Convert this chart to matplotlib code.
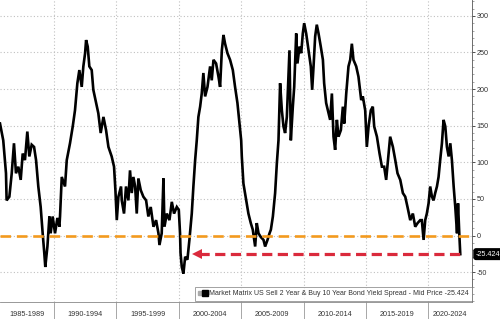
import matplotlib
matplotlib.use("Agg")
import matplotlib.pyplot as plt
import matplotlib.transforms as mtransforms
from matplotlib.lines import Line2D
import numpy as np

# ---- data (decimal year, spread in bp) ----
years = [
    1985.67, 1985.93, 1986.15, 1986.20, 1986.42, 1986.61, 1986.79, 1986.95, 1987.14, 1987.33,
    1987.49, 1987.67, 1987.86, 1988.02, 1988.21, 1988.40, 1988.56, 1988.74, 1988.93, 1989.09,
    1989.22, 1989.30, 1989.47, 1989.63, 1989.73, 1989.89, 1990.08, 1990.27, 1990.43,
    1990.48, 1990.62, 1990.88, 1991.02, 1991.28, 1991.50, 1991.68, 1991.87, 1992.03, 1992.22,
    1992.35, 1992.49, 1992.57, 1992.70, 1992.83, 1993.02, 1993.15, 1993.37, 1993.55, 1993.74,
    1993.96, 1994.17, 1994.36, 1994.62, 1994.81, 1994.92, 1995.03, 1995.16, 1995.37,
    1995.43, 1995.61, 1995.77, 1995.96, 1996.09, 1996.23, 1996.36, 1996.50, 1996.63, 1996.76,
    1996.95, 1997.16, 1997.38, 1997.56, 1997.75, 1997.97, 1998.18, 1998.37, 1998.45, 1998.63,
    1998.77, 1998.85, 1999.04, 1999.25, 1999.44, 1999.62, 1999.84, 2000.00, 2000.10,
    2000.14, 2000.24, 2000.37, 2000.51, 2000.69, 2000.85, 2001.04, 2001.17, 2001.31, 2001.44,
    2001.57, 2001.71, 2001.84, 2001.97, 2002.11, 2002.30, 2002.51, 2002.64, 2002.78, 2002.99,
    2003.18, 2003.31, 2003.45, 2003.58, 2003.71, 2003.90, 2004.11, 2004.33, 2004.51, 2004.70,
    2004.86, 2005.00,
    2005.05, 2005.18, 2005.40, 2005.58, 2005.77, 2005.93, 2006.12, 2006.25, 2006.39, 2006.57,
    2006.79, 2006.92, 2007.11, 2007.27, 2007.38, 2007.54, 2007.72, 2007.86, 2007.99, 2008.12,
    2008.26, 2008.39, 2008.52, 2008.66, 2008.87, 2008.98, 2009.14, 2009.25, 2009.41, 2009.51,
    2009.67, 2009.81,
    2009.94, 2010.05, 2010.21, 2010.40, 2010.58, 2010.69, 2010.80, 2010.93, 2011.06, 2011.20,
    2011.38, 2011.55, 2011.65, 2011.81, 2012.00, 2012.13, 2012.27, 2012.40, 2012.53, 2012.67,
    2012.80, 2012.99, 2013.15, 2013.26, 2013.42, 2013.60, 2013.74, 2013.87, 2014.00, 2014.22,
    2014.40, 2014.62,
    2014.75, 2014.94, 2015.07, 2015.21, 2015.39, 2015.55, 2015.66, 2015.88, 2016.09, 2016.28,
    2016.46, 2016.62, 2016.81, 2016.94, 2017.16, 2017.35, 2017.53, 2017.75, 2017.96, 2018.15,
    2018.33, 2018.55, 2018.76, 2018.95, 2019.14, 2019.35,
    2019.48, 2019.62, 2019.75, 2019.88, 2020.02, 2020.15, 2020.29, 2020.42, 2020.55, 2020.69,
    2020.82, 2020.95, 2021.09, 2021.22, 2021.36, 2021.49, 2021.63, 2021.76, 2021.89, 2022.03,
    2022.16, 2022.30, 2022.38, 2022.48, 2022.56,
]
spread = [
    153, 130, 85, 48, 53, 85, 126, 85, 94, 76,
    112, 103, 142, 108, 124, 121, 103, 67, 39, 3,
    -24, -43, -15, 26, 3, 26, 3, 24, 12,
    26, 80, 67, 103, 126, 149, 171, 208, 226, 203,
    231, 249, 267, 258, 231, 226, 199, 181, 167, 140,
    162, 144, 121, 108, 94, 62, 21, 53, 67,
    48, 30, 67, 48, 89, 58, 80, 67, 30, 78,
    62, 53, 48, 26, 39, 12, 21, 3, -13, 3,
    78, 12, 30, 21, 46, 30, 39, 35, 3,
    -24, -43, -52, -29, -33, -6, 30, 67, 103, 130,
    162, 176, 194, 222, 190, 203, 231, 212, 240, 235,
    217, 203, 253, 274, 262, 249, 240, 226, 203, 181,
    153, 130,
    108, 71, 48, 30, 17, 8, -15, 17, 3, -2,
    -6, -15, -6, 3, 8, 26, 58, 99, 130, 208,
    171, 149, 140, 162, 253, 130, 176, 203, 276, 235,
    258, 249,
    276, 290, 276, 253, 231, 199, 231, 272, 288, 276,
    258, 240, 208, 181, 167, 158, 194, 135, 117, 158,
    135, 144, 176, 153, 194, 231, 240, 262, 240, 231,
    217, 185,
    190, 171, 121, 149, 171, 176, 149, 135, 112, 94,
    94, 76, 112, 135, 121, 103, 85, 76, 58, 53,
    39, 21, 30, 12, 17, 21,
    21, -6, 21, 30, 44, 67, 53, 48, 58, 67,
    80, 103, 126, 158, 149, 121, 108, 126, 103, 67,
    39, 3, 44, 3, -25.424,
]
last_value = -25.424
arrow_start = 2001.17
band_edges = [1985, 1990, 1995, 2000, 2005, 2010, 2015, 2020, 2025]
band_labels = ["1985-1989", "1990-1994", "1995-1999", "2000-2004",
               "2005-2009", "2010-2014", "2015-2019", "2020-2024"]
y_ticks = [-50, 0, 50, 100, 150, 200, 250, 300]
legend_label = "Market Matrix US Sell 2 Year & Buy 10 Year Bond Yield Spread - Mid Price -25.424"

FONT = "Liberation Sans"
plt.rcParams["font.family"] = [FONT, "DejaVu Sans"]

fig = plt.figure(figsize=(5.0, 3.19), dpi=100)
ax = fig.add_axes([0.0, 0.0542, 0.944, 0.9458])
xmin, xmax = 1985.67, 2023.5
ymin, ymax = -90.4, 321.7
ax.set_xlim(xmin, xmax)
ax.set_ylim(ymin, ymax)

# grid
for yv in y_ticks:
    ax.axhline(yv, color="#c0c0c0", lw=0.8, ls=(0, (1, 2)), zorder=0)
for xv in band_edges[1:-1]:
    ax.axvline(xv, color="#c0c0c0", lw=0.8, ls=(0, (1, 2)), zorder=0)

# series
ax.plot(years, spread, color="black", lw=1.9, zorder=3, solid_joinstyle="miter")

# zero line
ax.axhline(0, color="#F39A1E", lw=1.9, ls=(0, (4, 2.2)), zorder=4)

# red arrow
red = "#DA2A3C"
ax.plot([arrow_start + 0.45, years[-1]], [last_value, last_value], color=red,
        lw=2.3, ls=(0, (3.2, 1.7)), zorder=4, solid_capstyle="butt")
ax.plot([arrow_start + 0.3], [last_value], marker="<", color=red, ms=6.5,
        markeredgewidth=0, zorder=5)

# spines
for s in ["left", "top"]:
    ax.spines[s].set_visible(False)
ax.spines["right"].set_color("#555555")
ax.spines["right"].set_linewidth(0.6)
ax.spines["bottom"].set_color("#888888")
ax.spines["bottom"].set_linewidth(0.6)

# y axis on right
ax.yaxis.tick_right()
ax.set_yticks(y_ticks)
ax.set_yticklabels([str(v) for v in y_ticks])
ax.yaxis.set_minor_locator(matplotlib.ticker.MultipleLocator(10))
ax.tick_params(axis="y", which="major", length=2.5, width=0.6, pad=1.0,
               labelsize=5.2, colors="#333333")
ax.tick_params(axis="y", which="minor", length=1.2, width=0.4, colors="#666666")

# x axis: separators + band labels
ax.set_xticks(band_edges[1:-1])
ax.set_xticklabels([])
ax.tick_params(axis="x", which="major", length=12.5, width=0.6, color="#999999")
trans = mtransforms.blended_transform_factory(ax.transData, ax.transAxes)
for i, lab in enumerate(band_labels):
    lo = max(band_edges[i], xmin)
    hi = min(band_edges[i + 1], xmax)
    ax.text((lo + hi) / 2, -0.043, lab, transform=trans, ha="center", va="center",
            fontsize=5.2, color="#333333", clip_on=False)

# value tag
ytrans = mtransforms.blended_transform_factory(ax.transAxes, ax.transData)
ax.text(1.008, last_value, "-25.424", transform=ytrans, ha="left", va="center",
        fontsize=5.2, color="white", clip_on=False,
        bbox=dict(boxstyle="round,pad=0.25,rounding_size=0.3", fc="black", ec="black"))

# legend
h_gray = Line2D([], [], marker="s", color="#aaaaaa", ls="none", ms=2.5)
h_black = Line2D([], [], marker="s", color="black", ls="none", ms=5)
leg = ax.legend([(h_gray, h_black)], [legend_label], loc="lower right",
                bbox_to_anchor=(1.0, 0.004), fontsize=5.0, frameon=True, fancybox=False,
                borderpad=0.45, handlelength=1.3, handletextpad=0.3, borderaxespad=0,
                handler_map={tuple: matplotlib.legend_handler.HandlerTuple(ndivide=None, pad=0.0)})
leg.get_frame().set_edgecolor("#777777")
leg.get_frame().set_linewidth(0.6)
for t in leg.get_texts():
    t.set_color("#333333")

fig.savefig("out.png", dpi=100)
